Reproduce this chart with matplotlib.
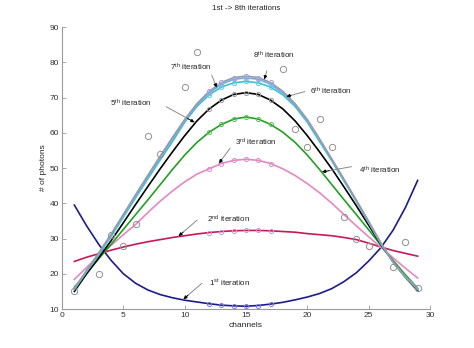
import numpy as np
import matplotlib
matplotlib.use('Agg')
import matplotlib.pyplot as plt

plt.rcParams['font.family'] = ['Liberation Sans', 'DejaVu Sans']
plt.rcParams['mathtext.default'] = 'regular'

channels = np.arange(1, 30)

# fitted curves for each iteration
it1 = [39.5, 33.6, 28.3, 23.8, 20.0, 17.3, 15.4, 14.1, 13.2, 12.5, 12.0, 11.5, 11.1, 10.9, 10.8,
       11.0, 11.4, 11.9, 12.6, 13.4, 14.4, 15.8, 17.8, 20.3, 23.6, 27.4, 32.4, 38.8, 46.5]
it2 = [23.5, 24.7, 25.7, 26.7, 27.6, 28.4, 29.1, 29.7, 30.3, 30.8, 31.3, 31.7, 32.0, 32.2, 32.3,
       32.3, 32.2, 32.0, 31.8, 31.4, 31.1, 30.8, 30.3, 29.7, 28.7, 27.6, 26.6, 25.8, 25.0]
it3 = [18.4, 21.8, 25.1, 28.1, 31.1, 34.0, 37.4, 40.6, 43.5, 46.1, 48.3, 49.8, 51.3, 52.2, 52.5,
       52.2, 51.3, 49.8, 47.9, 45.6, 43.0, 40.0, 36.8, 33.6, 30.5, 27.5, 24.5, 21.6, 18.8]
it4 = [16.2, 20.2, 24.3, 28.4, 32.6, 36.8, 41.0, 45.3, 49.6, 53.7, 57.3, 60.2, 62.4, 63.9, 64.5,
       63.9, 62.4, 60.2, 57.3, 53.7, 49.6, 45.3, 41.0, 36.8, 32.5, 28.1, 23.8, 19.7, 15.9]
it5 = [15.0, 20.0, 24.6, 29.4, 34.5, 39.7, 44.8, 49.8, 54.6, 59.2, 63.4, 66.8, 69.3, 70.9, 71.4,
       70.9, 69.3, 66.8, 63.4, 59.2, 54.6, 49.8, 44.6, 39.3, 33.8, 28.3, 23.4, 19.0, 15.2]
it6 = [15.5, 20.6, 25.4, 30.6, 36.1, 41.6, 47.0, 52.3, 57.5, 63.0, 67.5, 70.8, 73.0, 74.2, 74.6,
       74.2, 73.0, 70.8, 67.5, 63.0, 57.5, 52.0, 46.3, 40.5, 34.5, 28.5, 23.2, 19.0, 15.5]
it7 = [15.7, 20.8, 25.7, 31.0, 36.5, 42.1, 47.5, 52.9, 58.1, 63.4, 67.9, 71.3, 73.8, 75.2, 75.6,
       75.2, 73.8, 71.3, 67.9, 63.4, 57.9, 52.3, 46.6, 40.7, 34.7, 28.7, 23.3, 19.1, 15.7]
it8 = [15.8, 21.0, 26.0, 31.3, 36.9, 42.5, 48.0, 53.4, 58.7, 63.8, 68.3, 71.8, 74.3, 75.7, 76.1,
       75.7, 74.3, 71.8, 68.3, 63.8, 58.3, 52.6, 46.8, 40.9, 34.9, 28.8, 23.4, 19.2, 15.8]

# measured photon counts (grey circles)
data_x = [1, 3, 4, 5, 6, 7, 8, 10, 11, 18, 19, 20, 21, 22, 23, 24, 25, 27, 28, 29]
data_y = [15, 20, 31, 28, 34, 59, 54, 73, 83, 78, 61, 56, 64, 56, 36, 30, 28, 22, 29, 16]

curves = [it1, it2, it3, it4, it5, it6, it7, it8]
line_colors = ['#1c1c8c', '#c8185a', '#e487c4', '#22a022', '#000000', '#33c6d6', '#74aee0', '#9a9aa6']
mark_colors = ['#7d7de0', '#c49ad8', '#d890c8', '#5ec05e', '#9a9a9a', '#55d0dc', '#8fb8e6', '#a8a0d8']

fig = plt.figure(figsize=(4.74, 3.48), dpi=100)
ax = fig.add_axes([0.131, 0.112, 0.776, 0.81])

for ys, lc, mc in zip(curves, line_colors, mark_colors):
    ax.plot(channels, ys, color=lc, lw=1.2, zorder=2)
    ax.plot(channels[11:17], ys[11:17], 'o', ms=3, mfc='none', mec=mc, mew=0.7, zorder=3)

ax.plot(data_x, data_y, 'o', ms=4.5, mfc='none', mec='#909090', mew=0.7, zorder=4)

labels = ['1$^{st}$ iteration', '2$^{nd}$ iteration', '3$^{rd}$ iteration', '4$^{th}$ iteration',
          '5$^{th}$ iteration', '6$^{th}$ iteration', '7$^{th}$ iteration', '8$^{th}$ iteration']
text_pos = [(12.0, 17.5), (11.8, 35.4), (14.1, 57.3), (24.2, 49.4),
            (3.9, 68.4), (20.2, 71.7), (8.8, 78.7), (15.6, 81.9)]
tail_pos = [(11.4, 17.3), (11.0, 35.2), (13.7, 55.6), (23.6, 50.4),
            (8.5, 67.4), (19.8, 71.7), (12.2, 76.4), (16.7, 77.6)]
head_pos = [(9.9, 12.8), (9.5, 30.7), (12.8, 51.4), (21.2, 48.9),
            (10.8, 63.0), (18.3, 70.3), (12.6, 72.9), (16.5, 75.2)]

for lab, tp, tl, hd in zip(labels, text_pos, tail_pos, head_pos):
    ax.text(tp[0], tp[1], lab, fontsize=5.8, color='#222222', va='center', ha='left')
    ax.annotate('', xy=hd, xytext=tl,
                arrowprops=dict(arrowstyle='-', color='#8a8a8a', lw=0.7, shrinkA=0, shrinkB=0))
    back = (hd[0] + 0.25 * (tl[0] - hd[0]), hd[1] + 0.25 * (tl[1] - hd[1]))
    ax.annotate('', xy=hd, xytext=back,
                arrowprops=dict(arrowstyle='-|>', color='black', lw=0.6, mutation_scale=5,
                                shrinkA=0, shrinkB=0))

ax.set_xlim(0, 30)
ax.set_ylim(10, 90)
ax.set_xticks(range(0, 31, 5))
ax.set_yticks(range(10, 91, 10))
ax.set_title('1st -> 8th iterations', fontsize=5.8, color='#222222', pad=12)
ax.set_xlabel('channels', fontsize=6, color='#222222', labelpad=2)
ax.set_ylabel('# of photons', fontsize=6, color='#222222', labelpad=2)

for s in ['top', 'right']:
    ax.spines[s].set_visible(False)
for s in ['left', 'bottom']:
    ax.spines[s].set_color('#9a9a9a')
    ax.spines[s].set_linewidth(0.8)
ax.tick_params(direction='in', length=3, width=0.6, colors='#9a9a9a', labelsize=6,
               labelcolor='#333333', pad=2)

fig.savefig('out.png', dpi=100)
